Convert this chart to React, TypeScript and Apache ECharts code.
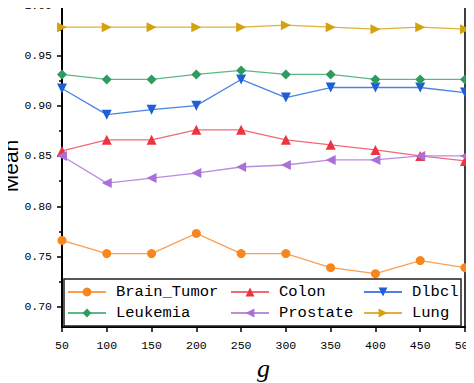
import React, { useEffect, useRef } from "react";
import * as echarts from "echarts";

const gValues = [50, 100, 150, 200, 250, 300, 350, 400, 450, 500];
const brainTumor = [0.766, 0.753, 0.753, 0.773, 0.753, 0.753, 0.739, 0.733, 0.746, 0.739];
const colon = [0.855, 0.866, 0.866, 0.876, 0.876, 0.866, 0.861, 0.856, 0.85, 0.845];
const dlbcl = [0.917, 0.891, 0.896, 0.9, 0.926, 0.908, 0.918, 0.918, 0.918, 0.913];
const leukemia = [0.931, 0.926, 0.926, 0.931, 0.935, 0.931, 0.931, 0.926, 0.926, 0.926];
const prostate = [0.85, 0.823, 0.828, 0.833, 0.839, 0.841, 0.846, 0.846, 0.85, 0.85];
const lung = [0.978, 0.978, 0.978, 0.978, 0.978, 0.98, 0.978, 0.976, 0.978, 0.976];

const yMajorTicks = [0.7, 0.75, 0.8, 0.85, 0.9, 0.95, 1.0];
// the top label sits a hair below the axis end so that it is not pushed outward
const yLabelValues = [0.7, 0.75, 0.8, 0.85, 0.9, 0.95, 0.9995];
const yMinorTicks = [0.725, 0.775, 0.825, 0.875, 0.925, 0.975];

const seriesDefs = [
  { name: "Brain_Tumor", data: brainTumor, color: "#F7861C", line: "#F9A050", symbol: "circle", rotate: 0, size: 9 },
  { name: "Colon", data: colon, color: "#EE3340", line: "#F06A76", symbol: "triangle", rotate: 0, size: 10 },
  { name: "Dlbcl", data: dlbcl, color: "#1F5FD6", line: "#4A84E2", symbol: "triangle", rotate: 180, size: 10 },
  { name: "Leukemia", data: leukemia, color: "#2E9B5F", line: "#5DB888", symbol: "diamond", rotate: 0, size: 10 },
  { name: "Prostate", data: prostate, color: "#A870D8", line: "#B98CE0", symbol: "triangle", rotate: 90, size: 10 },
  { name: "Lung", data: lung, color: "#D4A20E", line: "#DDB33A", symbol: "triangle", rotate: -90, size: 10 },
];

const legendPos = [
  { name: "Brain_Tumor", left: 67, top: 284 },
  { name: "Colon", left: 230, top: 284 },
  { name: "Dlbcl", left: 363, top: 284 },
  { name: "Leukemia", left: 67, top: 305 },
  { name: "Prostate", left: 230, top: 305 },
  { name: "Lung", left: 363, top: 305 },
];

export default function App() {
  const ref = useRef<HTMLDivElement>(null);
  useEffect(() => {
    if (!ref.current) return;
    const chart = echarts.init(ref.current, null, { renderer: "svg" });
    const labelFont = { fontFamily: "Liberation Mono", fontSize: 11.5, color: "#000" };
    chart.setOption({
      animation: false,
      backgroundColor: "#fff",
      grid: {
        left: 62,
        top: 5,
        right: 9,
        bottom: 56,
        show: true,
        containLabel: false,
        outerBoundsMode: "none",
        borderColor: "#000",
        borderWidth: 1.5,
        backgroundColor: "transparent",
      },
      xAxis: {
        type: "value",
        min: 50,
        max: 500,
        interval: 50,
        name: "g",
        nameLocation: "middle",
        nameGap: 20,
        nameTextStyle: {
          fontFamily: "Liberation Serif",
          fontStyle: "italic",
          fontSize: 26,
          lineHeight: 26,
          color: "#000",
        },
        axisLine: { lineStyle: { color: "#000", width: 2 } },
        axisTick: { inside: false, length: 5, lineStyle: { color: "#000", width: 1.5 } },
        axisLabel: { ...labelFont, margin: 12 },
        splitLine: { show: false },
      },
      yAxis: [
        {
          type: "value",
          min: 0.68,
          max: 1.0,
          name: "Mean",
          nameLocation: "middle",
          nameGap: 41,
          nameMoveOverlap: false,
          nameTextStyle: {
            fontFamily: "Liberation Sans",
            fontSize: 21,
            lineHeight: 21,
            color: "#000",
          },
          axisLine: { show: true, lineStyle: { color: "#000", width: 2 } },
          axisTick: {
            show: true,
            inside: false,
            length: 5,
            customValues: yMajorTicks,
            lineStyle: { color: "#000", width: 1.5 },
          },
          axisLabel: {
            ...labelFont,
            margin: 10,
            verticalAlign: "middle",
            customValues: yLabelValues,
            formatter: (v: number) => v.toFixed(2),
          },
          splitLine: { show: false },
        },
        {
          type: "value",
          min: 0.68,
          max: 1.0,
          position: "left",
          axisLine: { show: false },
          axisTick: {
            show: true,
            inside: false,
            length: 3,
            customValues: yMinorTicks,
            lineStyle: { color: "#000", width: 1.5 },
          },
          axisLabel: { show: false },
          splitLine: { show: false },
        },
      ],
      graphic: [
        {
          type: "rect",
          z: 50,
          shape: { x: 64, y: 279, width: 397, height: 47 },
          style: { fill: "#fff", stroke: "#222", lineWidth: 1.5 },
        },
      ],
      legend: legendPos.map((p) => ({
        data: [p.name],
        left: p.left,
        top: p.top,
        padding: 0,
        z: 60,
        itemWidth: 38,
        itemHeight: 11,
        selectedMode: false,
        textStyle: { fontFamily: "Liberation Mono", fontSize: 15.5, color: "#000", padding: [0, 0, 0, 5] },
      })),
      series: seriesDefs.map((s) => ({
        name: s.name,
        type: "line",
        yAxisIndex: 0,
        data: gValues.map((g, i) => [g, s.data[i]]),
        symbol: s.symbol,
        symbolSize: s.size,
        symbolRotate: s.rotate,
        showAllSymbol: true,
        clip: true,
        itemStyle: { color: s.color },
        lineStyle: { color: s.line, width: 1.3 },
        z: 3,
      })),
    });
    return () => chart.dispose();
  }, []);
  return <div ref={ref} style={{ width: 474, height: 383, marginLeft: -8, marginTop: -8 }} />;
}
